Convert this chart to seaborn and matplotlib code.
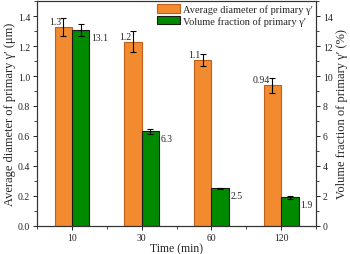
import matplotlib
matplotlib.use("Agg")
import matplotlib.pyplot as plt
from matplotlib.patches import Patch
from matplotlib.ticker import MultipleLocator
import seaborn as sns
import pandas as pd

times = ["10", "30", "60", "120"]
diameter = [1.33, 1.23, 1.11, 0.94]
diameter_err = [0.06, 0.07, 0.04, 0.05]
diameter_labels = ["1.3", "1.2", "1.1", "0.94"]
fraction = [13.1, 6.3, 2.5, 1.9]
fraction_err = [0.4, 0.15, 0.05, 0.1]
fraction_labels = ["13.1", "6.3", "2.5", "1.9"]
s_d = "Average diameter of primary γ′"
s_f = "Volume fraction of primary γ′"

sns.set_theme(style="ticks")
plt.rcParams["font.family"] = ["Liberation Serif", "DejaVu Serif"]

# long tables; the other series is a zero placeholder so dodge keeps both slots
df_d = pd.DataFrame({"time": times * 2, "val": diameter + [0] * 4,
                     "series": [s_d] * 4 + [s_f] * 4})
df_f = pd.DataFrame({"time": times * 2, "val": [0] * 4 + fraction,
                     "series": [s_d] * 4 + [s_f] * 4})

c_orange = "#F28A30"
c_green = "#008A00"
e_orange = "#C0601A"
e_green = "#1a1a1a"

fig, ax1 = plt.subplots(figsize=(3.5, 2.55), dpi=100)
ax2 = ax1.twinx()

sns.barplot(data=df_d, x="time", y="val", hue="series", hue_order=[s_d, s_f],
            order=times, palette=[c_orange, c_green], width=0.5, errorbar=None,
            saturation=1, edgecolor=e_orange, linewidth=0.8, ax=ax1, legend=False)
sns.barplot(data=df_f, x="time", y="val", hue="series", hue_order=[s_d, s_f],
            order=times, palette=[c_orange, c_green], width=0.5, errorbar=None,
            saturation=1, edgecolor=e_green, linewidth=0.8, ax=ax2, legend=False)

for ax in (ax1, ax2):
    for p in list(ax.patches):
        if p.get_height() == 0:
            p.remove()

pd_ = sorted(ax1.patches, key=lambda p: p.get_x())
pf_ = sorted(ax2.patches, key=lambda p: p.get_x())

for p, v, e, lab in zip(pd_, diameter, diameter_err, diameter_labels):
    cx = p.get_x() + p.get_width() / 2
    ax1.errorbar(cx, v, yerr=e, color="black", capsize=2, elinewidth=0.8, capthick=0.8)
    ax1.text(cx - 0.03, v + 0.005, lab, ha="right", va="bottom", fontsize=7)
for p, v, e, lab in zip(pf_, fraction, fraction_err, fraction_labels):
    cx = p.get_x() + p.get_width() / 2
    ax2.errorbar(cx, v, yerr=e, color="black", capsize=2, elinewidth=0.8, capthick=0.8)
    ax2.text(p.get_x() + p.get_width() + 0.02, v - 0.2, lab, ha="left", va="top", fontsize=7)

ax1.set_xlim(-0.5, 3.5)
ax1.set_ylim(0, 1.5)
ax2.set_ylim(0, 15)
ax1.set_yticks([0, 0.2, 0.4, 0.6, 0.8, 1.0, 1.2, 1.4])
ax1.set_yticklabels(["0.0", "0.2", "0.4", "0.6", "0.8", "1.0", "1.2", "1.4"])
ax1.yaxis.set_minor_locator(MultipleLocator(0.1))
ax2.yaxis.set_major_locator(MultipleLocator(2))
ax2.yaxis.set_minor_locator(MultipleLocator(1))
ax1.xaxis.set_minor_locator(MultipleLocator(0.5))

for ax in (ax1, ax2):
    ax.tick_params(axis="both", which="major", labelsize=7, length=3, width=0.7, direction="out", pad=2)
    ax.tick_params(axis="both", which="minor", length=2, width=0.6, direction="out")
    for s in ax.spines.values():
        s.set_linewidth(0.8)
        s.set_color("#333333")
        s.set_visible(True)

ax1.set_xlabel("Time (min)", fontsize=8.5, labelpad=0)
ax1.set_ylabel("Average diameter of primary γ′ (μm)", fontsize=9, labelpad=1)
ax2.set_ylabel("Volume fraction of primary γ′ (%)", fontsize=9, labelpad=2)

handles = [Patch(facecolor=c_orange, edgecolor=e_orange, linewidth=0.8),
           Patch(facecolor=c_green, edgecolor=e_green, linewidth=0.8)]
ax2.legend(handles, [s_d, s_f], loc="upper right", fontsize=7.5, frameon=False,
           handlelength=2.2, handleheight=0.9, borderaxespad=0.1, borderpad=0.2,
           labelspacing=0.15, handletextpad=0.3)

fig.subplots_adjust(left=0.106, right=0.903, top=0.992, bottom=0.11)
fig.savefig("out.png", dpi=100)
